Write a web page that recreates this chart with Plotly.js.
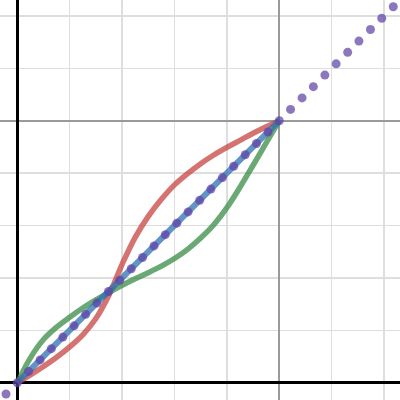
<!DOCTYPE html>
<html>
<head>
<meta charset="utf-8">
<script src="https://cdn.plot.ly/plotly-3.0.1.min.js"></script>
<style>
  html, body { margin: 0; padding: 0; background: #fff; }
  #plot { width: 400px; height: 400px; }
</style>
</head>
<body>
<div id="plot"></div>
<script>
// sample points
var curveX = [0, 0.05, 0.1, 0.15, 0.2, 0.25, 0.3, 0.35, 0.4, 0.45, 0.5,
              0.55, 0.6, 0.65, 0.7, 0.75, 0.8, 0.85, 0.9, 0.95, 1];
var redY = [0, 0.03, 0.062, 0.097, 0.137, 0.183, 0.245, 0.335, 0.452, 0.555, 0.635,
            0.7, 0.755, 0.798, 0.836, 0.869, 0.898, 0.925, 0.952, 0.977, 1];
var greenY = [0, 0.095, 0.165, 0.212, 0.25, 0.285, 0.316, 0.345, 0.372, 0.397, 0.42,
              0.445, 0.474, 0.509, 0.552, 0.603, 0.668, 0.746, 0.83, 0.915, 1];
var blueX = [0, 1];
var blueY = [0, 1];
var dotX = [-0.043, 0, 0.043, 0.087, 0.130, 0.174, 0.217, 0.261, 0.304, 0.348, 0.391,
            0.435, 0.478, 0.522, 0.565, 0.609, 0.652, 0.696, 0.739, 0.783, 0.826,
            0.870, 0.913, 0.957, 1, 1.043, 1.087, 1.130, 1.174, 1.217, 1.261,
            1.304, 1.348, 1.391, 1.435];
var dotY = dotX.slice();

var data = [
  {
    x: curveX, y: redY, mode: 'lines', type: 'scatter',
    line: {color: 'rgba(199,68,64,0.75)', width: 5.5, shape: 'spline', smoothing: 1},
    hoverinfo: 'none'
  },
  {
    x: curveX, y: greenY, mode: 'lines', type: 'scatter',
    line: {color: 'rgba(56,140,70,0.75)', width: 5.5, shape: 'spline', smoothing: 1},
    hoverinfo: 'none'
  },
  {
    x: blueX, y: blueY, mode: 'lines', type: 'scatter',
    line: {color: 'rgba(45,112,179,0.75)', width: 6},
    hoverinfo: 'none'
  },
  {
    x: dotX, y: dotY, mode: 'markers', type: 'scatter',
    marker: {color: 'rgba(96,66,166,0.72)', size: 9, line: {width: 0}},
    hoverinfo: 'none'
  }
];

var axisStyle = {
  range: [-0.066, 1.4607],
  dtick: 1,
  tick0: 0,
  showgrid: true,
  gridcolor: '#9a9a9a',
  gridwidth: 2,
  minor: {dtick: 0.2, tick0: 0, showgrid: true, gridcolor: '#dedede', gridwidth: 1.5},
  zeroline: true,
  zerolinecolor: '#000000',
  zerolinewidth: 3,
  showticklabels: false,
  ticks: '',
  showline: false,
  fixedrange: true
};

var layout = {
  width: 400,
  height: 400,
  margin: {l: 0, r: 0, t: 0, b: 0, pad: 0},
  paper_bgcolor: '#ffffff',
  plot_bgcolor: '#ffffff',
  showlegend: false,
  xaxis: Object.assign({}, axisStyle),
  yaxis: Object.assign({}, axisStyle)
};

Plotly.newPlot('plot', data, layout, {displayModeBar: false, staticPlot: true});
</script>
</body>
</html>
